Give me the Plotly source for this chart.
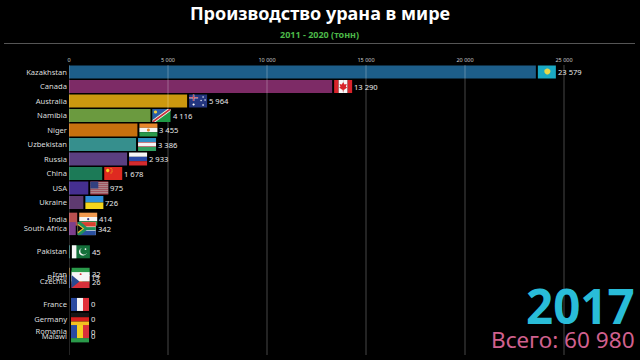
import math
import plotly.graph_objects as go

countries = ["Kazakhstan","Canada","Australia","Namibia","Niger","Uzbekistan","Russia","China","USA","Ukraine",
             "India","South Africa","Pakistan","Brazil","Iran","Czechia","France","Germany","Malawi","Romania"]
values = [23579,13290,5964,4116,3455,3386,2933,1678,975,726,414,342,45,19,32,26,0,0,0,0]
ranks = [0,1,2,3,4,5,6,7,8,9,10.15,10.8,12.4,14.15,13.95,14.45,16.03,17.06,18.2,17.9]
bar_colors = ["#1d5e8a","#7d2b66","#cc980f","#6b9a3f","#c7700e","#368f8d","#5a3f80","#1c7a57","#452f90","#5e3a70",
              "#b84f4f","#7c3f8c","#2f6f6f","#8a8a30","#806030","#405a90","#404080","#705020","#307030","#803040"]
tick_vals = [0,5000,10000,15000,20000,25000]
tick_text = ["0","5 000","10 000","15 000","20 000","25 000"]
title_text = "Производство урана в мире"
subtitle_text = "2011 - 2020 (тонн)"
year_text = "2017"
total_text = "Всего: 60 980"

W, H = 640, 360
L, R, T, B = 69, 40, 65, 5
PW, PH = W - L - R, H - T - B
PX_PER_UNIT = 0.0198
ROW = 14.5
FONT = "Noto Sans"

def fx(px): return (px - L) / PW
def fy(py): return 1 - (py - T) / PH

def rect(c, u0, v0, u1, v1):
    return (c, [(u0, v0), (u1, v0), (u1, v1), (u0, v1)])
def hstripes(*cs):
    n = len(cs)
    return [rect(c, 0, 13 * i / n, 18, 13 * (i + 1) / n) for i, c in enumerate(cs)]
def vstripes(*cs):
    n = len(cs)
    return [rect(c, 18 * i / n, 0, 18 * (i + 1) / n, 13) for i, c in enumerate(cs)]
def disc(c, u, v, r, n=14):
    return (c, [(u + r * math.cos(2 * math.pi * i / n), v + r * math.sin(2 * math.pi * i / n)) for i in range(n)])

us = [rect("#c8374a" if i % 2 == 0 else "#f4f4f4", 0, i, 18, i + 1) for i in range(13)]
flags = {
    "Kazakhstan": [rect("#1aa9c4", 0, 0, 18, 13), disc("#e8d84a", 9.5, 6, 3)],
    "Canada": vstripes("#d8232a", "#f6f6f6", "#f6f6f6", "#d8232a") + [
        ("#d8232a", [(9, 2), (10.3, 4.4), (12.6, 4), (11.7, 6.8), (13, 7.6), (10, 9.8), (9.4, 9.8), (9.4, 11.4),
                     (8.6, 11.4), (8.6, 9.8), (8, 9.8), (5, 7.6), (6.3, 6.8), (5.4, 4), (7.7, 4.4)])],
    "Australia": [rect("#23357f", 0, 0, 18, 13), rect("#c9c9d8", 0, 2.5, 9, 4), rect("#c9c9d8", 3.7, 0, 5.3, 6.5),
                  rect("#c83a4a", 0, 2.9, 9, 3.6), rect("#c83a4a", 4.1, 0, 4.9, 6.5),
                  disc("#ffffff", 4.5, 10, 1.1), disc("#ffffff", 14, 2.5, .7), disc("#ffffff", 16, 5.5, .7),
                  disc("#ffffff", 12, 6, .7), disc("#ffffff", 14, 10.5, .8)],
    "Namibia": [rect("#1f9a45", 0, 0, 18, 13), ("#2a5ca8", [(0, 0), (15, 0), (0, 11)]),
                ("#f2f2f2", [(0, 11), (15, 0), (18, 0), (18, 2), (3, 13), (0, 13)]),
                ("#c8303c", [(0, 12), (16.5, 0), (18, 0), (18, 1), (1.5, 13), (0, 13)]), disc("#f0d040", 3, 3, 1.6)],
    "Niger": hstripes("#e8862a", "#f6f6f6", "#2a9a4a") + [disc("#e8862a", 9, 6.5, 1.5)],
    "Uzbekistan": [rect("#2f8fc4", 0, 0, 18, 4.2), rect("#f4f4f4", 0, 4.2, 18, 8.8), rect("#2fa060", 0, 8.8, 18, 13),
                   rect("#c8303c", 0, 4.1, 18, 4.6), rect("#c8303c", 0, 8.4, 18, 8.9)],
    "Russia": hstripes("#f6f6f6", "#2a4aa8", "#d42a2e"),
    "China": [rect("#df2a20", 0, 0, 18, 13), disc("#f5d020", 3.5, 3.5, 1.7), disc("#f5d020", 6.8, 1.6, .5),
              disc("#f5d020", 7.8, 3, .5), disc("#f5d020", 7.8, 4.8, .5), disc("#f5d020", 6.8, 6, .5)],
    "USA": us + [rect("#33407f", 0, 0, 8, 7)],
    "Ukraine": hstripes("#2f8fd8", "#f5d51c"),
    "India": hstripes("#f09a50", "#f6f6f6", "#2f9a4a") + [disc("#3a3a8a", 9, 6.5, 1.1)],
    "South Africa": [rect("#f4f4f4", 0, 0, 18, 13), rect("#d8402f", 0, 0, 18, 4.4), rect("#2a50a0", 0, 8.6, 18, 13),
                     rect("#20905a", 0, 5, 18, 8),
                     ("#20905a", [(0, 0), (3, 0), (9, 5), (9, 8), (3, 13), (0, 13)]),
                     ("#f0c030", [(0, 1.6), (6.5, 6.5), (0, 11.4)]), ("#101010", [(0, 3), (4.7, 6.5), (0, 10)])],
    "Pakistan": [rect("#146f3a", 0, 0, 18, 13), rect("#f6f6f6", 0, 0, 4.5, 13), disc("#f6f6f6", 11, 6.5, 3.9),
                 disc("#146f3a", 12, 5.6, 3.6), disc("#f6f6f6", 13.6, 3.8, .9)],
    "Brazil": [rect("#2a9a4a", 0, 0, 18, 13), ("#f2d020", [(9, 1), (17, 6.5), (9, 12), (1, 6.5)]), disc("#2a4a90", 9, 6.5, 2.6)],
    "Iran": hstripes("#2a9a4a", "#f6f6f6", "#d8303a") + [disc("#d8303a", 9, 6.5, 1)],
    "Czechia": [rect("#f6f6f6", 0, 0, 18, 6.5), rect("#d8303a", 0, 6.5, 18, 13), ("#2a4a90", [(0, 0), (8, 6.5), (0, 13)])],
    "France": vstripes("#2a4aa0", "#f6f6f6", "#e0303a"),
    "Germany": hstripes("#151515", "#d8201e", "#f2c020"),
    "Malawi": hstripes("#151515", "#d8303a", "#2a9a4a"),
    "Romania": vstripes("#2a4aa0", "#f5d020", "#d8303a"),
}

def flag_shapes(value, rank, parts):
    out = []
    for color, pts in parts:
        path = "M" + "L".join(f"{2 + u:.2f},{6.5 - v:.2f}" for u, v in pts) + "Z"
        out.append(dict(type="path", layer="above", path=path, fillcolor=color, line=dict(width=0),
                        xref="x", yref="y", xsizemode="pixel", ysizemode="pixel",
                        xanchor=value, yanchor=rank))
    return out

fig = go.Figure(go.Bar(
    x=values, y=ranks, orientation="h", width=13 / ROW,
    marker=dict(color=bar_colors, line=dict(width=0)), hoverinfo="skip",
))

shapes = []
for v in tick_vals:
    shapes.append(dict(type="line", layer="above", xref="x", yref="paper", x0=v, x1=v, y0=0, y1=1,
                       line=dict(color="rgba(255,255,255,0.28)", width=1)))
for country, value, rank in zip(countries, values, ranks):
    shapes += flag_shapes(value, rank, flags[country])
shapes.append(dict(type="line", xref="paper", yref="paper", x0=fx(4), x1=fx(635), y0=fy(43.5), y1=fy(43.5),
                   line=dict(color="#555555", width=1)))

annotations = [dict(x=v, y=r, xref="x", yref="y", text=f"{v:,}".replace(",", " "), showarrow=False,
                    xanchor="left", yanchor="middle", xshift=20,
                    font=dict(family=FONT, size=7.6, color="#e8e8e8"))
               for v, r in zip(values, ranks)]
annotations += [
    dict(x=fx(319), y=fy(34.5), xref="paper", yref="paper", text=f"<b>{subtitle_text}</b>", showarrow=False,
         yanchor="middle", font=dict(family=FONT, size=9, color="#4cb848")),
    dict(x=fx(637), y=fy(305), xref="paper", yref="paper", text=f"<b>{year_text}</b>", showarrow=False,
         xanchor="right", yanchor="middle", font=dict(family=FONT, size=47.5, color="#29bcd8")),
    dict(x=fx(637), y=fy(339), xref="paper", yref="paper", text=total_text, showarrow=False,
         xanchor="right", yanchor="middle", font=dict(family=FONT, size=22.6, color="#d0608e")),
]

fig.update_layout(
    width=W, height=H, autosize=False, showlegend=False, barmode="overlay",
    paper_bgcolor="#000000", plot_bgcolor="#000000",
    margin=dict(l=L, r=R, t=T, b=B),
    title=dict(text=f"<b>{title_text}</b>", x=0.5, xref="container", xanchor="center", y=1 - 14 / H, yanchor="middle",
               font=dict(family=FONT, size=18, color="#ffffff")),
    xaxis=dict(side="top", range=[0, PW / PX_PER_UNIT], tickvals=tick_vals, ticktext=tick_text,
               tickfont=dict(family=FONT, size=5.5, color="#cccccc"), showgrid=False, zeroline=False,
               ticks="", showline=False, ticklabelstandoff=1),
    yaxis=dict(range=[(H - B - 72) / ROW, (T - 72) / ROW], tickvals=ranks, ticktext=countries,
               tickfont=dict(family=FONT, size=7.6, color="#dddddd"), showgrid=False, zeroline=False,
               ticks="", showline=False, ticklabelstandoff=1),
    shapes=shapes, annotations=annotations,
)
fig.write_html("out.html", config=dict(displayModeBar=False),
               post_script="document.body.style.margin='0';document.body.style.background='#000';document.documentElement.style.overflow='hidden';")
